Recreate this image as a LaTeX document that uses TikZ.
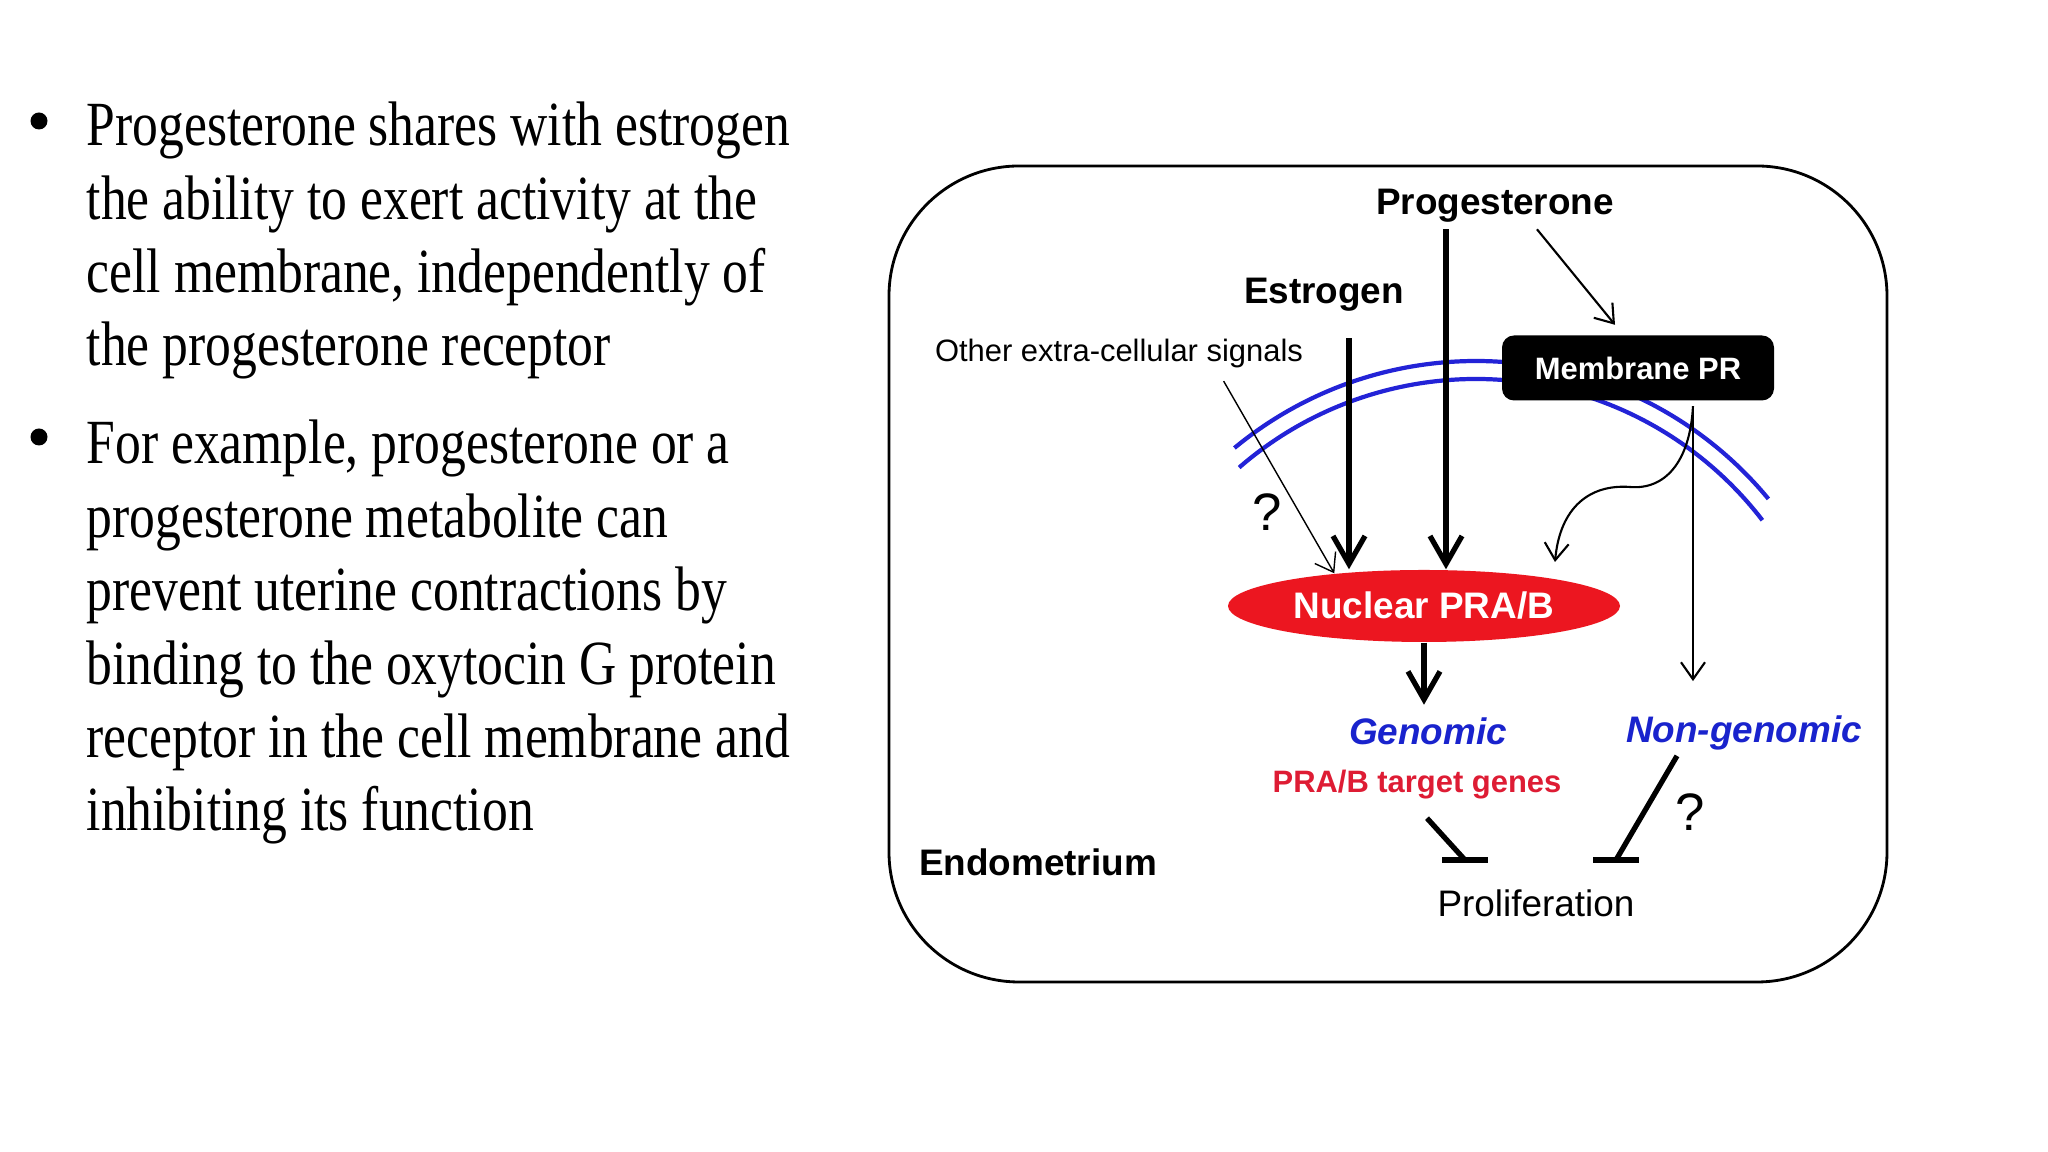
\documentclass[tikz,border=0pt]{standalone}
\usepackage{fontspec}
\setsansfont{Liberation Sans}
\newfontfamily\bodyfont[FakeStretch=0.82]{Liberation Serif}
\usetikzlibrary{positioning,arrows.meta,shapes.geometric,calc}
\definecolor{memblue}{RGB}{35,35,215}
\definecolor{nucred}{RGB}{236,22,32}
\definecolor{genblue}{RGB}{25,35,205}
\definecolor{genred}{RGB}{222,28,52}

\begin{document}
\begin{tikzpicture}
  \tikzset{
    body/.style={font=\bodyfont\fontsize{17.9}{20.9}\selectfont,align=left,inner sep=0pt},
    bulletdot/.style={circle,fill=black,inner sep=0pt,minimum size=0.17cm},
    lbl/.style={font=\sffamily\bfseries\fontsize{10.5}{12}\selectfont,inner sep=0pt},
    small/.style={font=\sffamily\fontsize{8.8}{10}\selectfont,inner sep=0pt},
    query/.style={font=\sffamily\fontsize{15}{16}\selectfont,inner sep=0pt},
    fatarr/.style={-{Straight Barb[length=2.8mm,width=3.2mm]},line width=1.5pt},
    thinarr/.style={-{Straight Barb[length=1.7mm,width=2.4mm]},line width=0.6pt},
    inhib/.style={line width=1.5pt},
    membrane/.style={memblue,line width=1.2pt}}
  \fill[white] (0,0) rectangle (20.48,11.52);
  \useasboundingbox (0,0) rectangle (20.48,11.52);
  % bullet text on the left
  \node[bulletdot] (b1) at (0.39,10.31){};
  \node[body,anchor=base west] (para1) at (0.86,7.86){Progesterone shares with estrogen\\
    the ability to exert activity at the\\cell membrane, independently of\\the progesterone receptor};
  \node[bulletdot] (b2) at (0.39,7.15){};
  \node[body,anchor=base west] (para2) at (0.86,3.21){For example, progesterone or a\\
    progesterone metabolite can\\prevent uterine contractions by\\binding to the oxytocin G protein\\
    receptor in the cell membrane and\\inhibiting its function};
  % figure frame and membrane
  \draw[line width=0.8pt,rounded corners=1.3cm] (8.89,1.70) rectangle (18.87,9.86);
  \draw[membrane] (14.76,4.12) ++(129.6:3.79) arc[start angle=129.6,end angle=39.5,radius=3.79];
  \draw[membrane] (14.76,4.12) ++(131:3.61) arc[start angle=131,end angle=37.5,radius=3.61];
  % labels
  \node[lbl] (prog) at (14.95,9.46){Progesterone};
  \node[lbl] (estr) at (13.24,8.57){Estrogen};
  \node[small] (other) at (11.19,7.98){Other extra-cellular signals};
  \node[lbl,font=\sffamily\bfseries\fontsize{8.8}{10}\selectfont,text=white,fill=black,rounded corners=0.12cm,
        minimum width=2.72cm,minimum height=0.65cm] (mpr) at (16.38,7.84){Membrane PR};
  \node[lbl,ellipse,fill=nucred,text=white,minimum width=3.92cm,minimum height=0.72cm] (nuclear) at (14.24,5.46){Nuclear PRA/B};
  \node[lbl,font=\sffamily\bfseries\itshape\fontsize{10.5}{12}\selectfont,text=genblue] (genomic) at (14.28,4.21){Genomic};
  \node[lbl,font=\sffamily\bfseries\itshape\fontsize{10.5}{12}\selectfont,text=genblue] (nongen) at (17.44,4.19){Non-genomic};
  \node[lbl,font=\sffamily\bfseries\fontsize{8.8}{10}\selectfont,text=genred] (genes) at (14.17,3.67){PRA/B target genes};
  \node[lbl,font=\sffamily\fontsize{10.5}{12}\selectfont] (prolif) at (15.36,2.49){Proliferation};
  \node[lbl] (endo) at (10.38,2.90){Endometrium};
  \node[query] (q1) at (12.67,6.40){?};
  \node[query] (q2) at (16.90,3.40){?};
  % arrows
  \draw[fatarr] ([xshift=2.5mm,yshift=-2.6mm]estr.south) -- ([xshift=2.5mm]estr.south |- nuclear.north);
  \draw[fatarr] ([xshift=-4.9mm,yshift=-0.6mm]prog.south) -- ([xshift=-4.9mm]prog.south |- nuclear.north);
  \draw[thinarr] ([xshift=4.2mm,yshift=-0.6mm]prog.south) -- ([xshift=-2.3mm,yshift=1mm]mpr.north);
  \draw[thinarr,line width=0.4pt] ([xshift=-8mm,yshift=-1.2mm]other.south east) -- (nuclear.160);
  \coordinate (mprout) at ([xshift=5.5mm,yshift=-0.5mm]mpr.south);
  \draw[thinarr] (mprout) -- (mprout |- nongen.north) [shorten >=3.4mm];
  \draw[thinarr] (mprout) .. controls (16.90,6.90) and (16.65,6.62) .. (16.30,6.65)
    .. controls (15.90,6.68) and (15.60,6.45) .. (15.55,5.90);
  \draw[fatarr,shorten >=1.2mm] (nuclear.south) -- (nuclear.south |- genomic.north);
  % inhibition
  \coordinate (stopL) at (14.65,2.92);
  \coordinate (stopR) at (16.16,2.92);
  \draw[inhib] ([xshift=1mm,yshift=-1.8mm]genes.south) -- (stopL);
  \draw[inhib] ([xshift=-2.3mm]stopL) -- ([xshift=2.3mm]stopL);
  \draw[inhib] ([xshift=-6.7mm,yshift=-0.5mm]nongen.south) -- (stopR);
  \draw[inhib] ([xshift=-2.3mm]stopR) -- ([xshift=2.3mm]stopR);
\end{tikzpicture}
\end{document}
